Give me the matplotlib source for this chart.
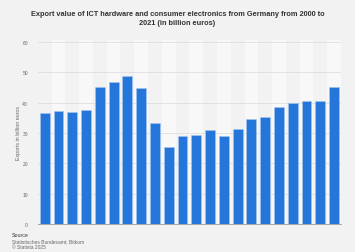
import numpy as np
import matplotlib.pyplot as plt

plt.rcParams["font.family"] = ["Liberation Sans", "DejaVu Sans"]

years = list(range(2000, 2022))
values = [36.6, 37.3, 36.9, 37.7, 45.1, 46.7, 48.8, 44.9, 33.2, 25.4, 29.2,
          29.5, 30.9, 29.1, 31.2, 34.6, 35.3, 38.7, 39.9, 40.4, 40.7, 45.2]
yticks = [0, 10, 20, 30, 40, 50, 60]

bg = "#f2f2f2"
fig = plt.figure(figsize=(3.55, 2.53), dpi=100, facecolor=bg)
ax = fig.add_axes([0.1065, 0.1095, 0.854, 0.727])
ax.set_facecolor(bg)

x = np.arange(len(years))
# alternating column stripes
for i in x:
    if i % 2 == 1:
        ax.axvspan(i - 0.5, i + 0.5, color="#f8f8f8", zorder=0, lw=0)

for y in yticks[1:]:
    ax.axhline(y, color="#dedede", lw=0.6, zorder=1)

ax.bar(x, values, width=0.72, color="#2576db", edgecolor="#a9c6ee",
       linewidth=0.4, zorder=3)

ax.set_xlim(-0.5, len(years) - 0.5)
ax.set_ylim(0, 60.5)
ax.set_xticks([])
ax.set_yticks(yticks)
ax.set_yticklabels([str(t) for t in yticks], fontsize=3.6, color="#666666")
ax.tick_params(axis="y", length=0, pad=7)
for s in ["top", "right", "left"]:
    ax.spines[s].set_visible(False)
ax.spines["bottom"].set_color("#999999")
ax.spines["bottom"].set_linewidth(0.6)
ax.set_ylabel("Exports in billion euros", fontsize=3.8, color="#666666",
              labelpad=1)

fig.text(0.5, 0.925, "Export value of ICT hardware and consumer electronics from Germany from 2000 to\n2021 (in billion euros)",
         ha="center", va="center", fontsize=5.3, fontweight="bold",
         color="#333333", linespacing=1.55)

fig.text(0.034, 0.068, "Source", fontsize=3.8, color="#333333", va="center")
fig.text(0.034, 0.044, "Statistisches Bundesamt; Bitkom", fontsize=3.5,
         color="#666666", va="center")
fig.text(0.034, 0.020, "© Statista 2025", fontsize=3.5, color="#666666",
         va="center")

fig.savefig("out.png", dpi=100, facecolor=bg)
